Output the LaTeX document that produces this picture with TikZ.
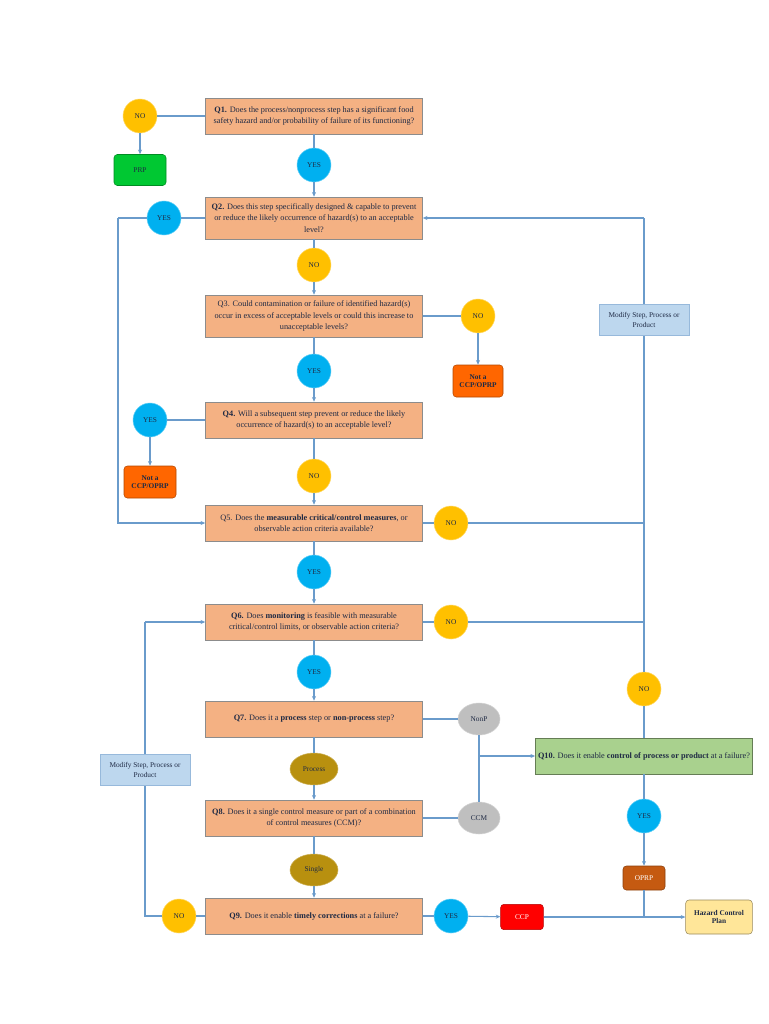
\documentclass[tikz,border=0pt]{standalone}
\usepackage{fontspec}
\setmainfont{Liberation Serif}
\usetikzlibrary{arrows.meta}
\definecolor{lnk}{HTML}{6A9BCB}
\definecolor{qfill}{HTML}{F4B183}
\definecolor{qline}{HTML}{8C8C8C}
\definecolor{nofill}{HTML}{FFC000}
\definecolor{yesfill}{HTML}{00B0F0}
\definecolor{prpfill}{HTML}{00C832}
\definecolor{ncpfill}{HTML}{FF6600}
\definecolor{modfill}{HTML}{BDD7EE}
\definecolor{olive}{HTML}{B8900F}
\definecolor{grayfill}{HTML}{BFBFBF}
\definecolor{q10fill}{HTML}{A9D18E}
\definecolor{oprpfill}{HTML}{C55A11}
\definecolor{hcpfill}{HTML}{FFE699}
\definecolor{txt}{HTML}{1F2A44}
\tikzset{link/.style={draw=lnk, line width=0.8pt},
  arr/.style={link, -{Stealth[length=3.5pt,width=3pt]}},
  qbox/.style={draw=qline, fill=qfill, minimum width=162.75pt, minimum height=27pt, inner sep=2pt,
    align=center, text=txt, font=\fontsize{6.2}{8.4}\selectfont},
  rnd/.style={circle, minimum size=25.5pt, inner sep=0pt, text=txt, font=\fontsize{5.5}{6}\selectfont},
  nocirc/.style={rnd, fill=nofill, draw=nofill!60!white},
  yescirc/.style={rnd, fill=yesfill, draw=yesfill!60!white},
  oval/.style={ellipse, minimum width=31.5pt, minimum height=24pt, inner sep=0pt, text=txt,
    font=\fontsize{5.5}{6}\selectfont},
  endbox/.style={rounded corners=2.5pt, inner sep=1pt, align=center, font=\fontsize{5.5}{6.5}\selectfont},
  modbox/.style={draw=lnk!70!white, fill=modfill, minimum width=67.5pt, minimum height=23.25pt,
    inner sep=1pt, align=center, text=txt, font=\fontsize{5.5}{7}\selectfont}}
\usetikzlibrary{shapes.geometric}
\begin{document}
\begin{tikzpicture}[x=0.75pt, y=-0.75pt]
  \useasboundingbox (0,0) rectangle (768,1024);
  % questions
  \node[qbox] (q1) at (314,116) {\textbf{Q1.} Does the process/nonprocess step has a significant food\\ safety hazard and/or probability of failure of its functioning?};
  \node[qbox, minimum height=31.5pt] (q2) at (314,218) {\textbf{Q2.} Does this step specifically designed \& capable to prevent\\ or reduce the likely occurrence of hazard(s) to an acceptable\\ level?};
  \node[qbox, minimum height=31.5pt] (q3) at (314,316) {Q3. Could contamination or failure of identified hazard(s)\\ occur in excess of acceptable levels or could this increase to\\ unacceptable levels?};
  \node[qbox] (q4) at (314,420) {\textbf{Q4.} Will a subsequent step prevent or reduce the likely\\ occurrence of hazard(s) to an acceptable level?};
  \node[qbox] (q5) at (314,523) {Q5. Does the \textbf{measurable critical/control measures}, or\\ observable action criteria available?};
  \node[qbox] (q6) at (314,622) {\textbf{Q6.} Does \textbf{monitoring} is feasible with measurable\\ critical/control limits, or observable action criteria?};
  \node[qbox] (q7) at (314,719) {\textbf{Q7.} Does it a \textbf{process} step or \textbf{non-process} step?};
  \node[qbox] (q8) at (314,818) {\textbf{Q8.} Does it a single control measure or part of a combination\\ of control measures (CCM)?};
  \node[qbox] (q9) at (314,916) {\textbf{Q9.} Does it enable \textbf{timely corrections} at a failure?};
  \node[qbox, draw=q10fill!60!black, fill=q10fill] (q10) at (644,756) {\textbf{Q10.} Does it enable \textbf{control of process or product} at a failure?};
  % answers
  \node[nocirc] (no1) at (140,116) {NO};
  \node[yescirc] (yes1) at (314,165) {YES};
  \node[yescirc] (yes2) at (164,218) {YES};
  \node[nocirc] (no2) at (314,265) {NO};
  \node[nocirc] (no3) at (478,316) {NO};
  \node[yescirc] (yes3) at (314,371) {YES};
  \node[yescirc] (yes4) at (150,420) {YES};
  \node[nocirc] (no4) at (314,476) {NO};
  \node[nocirc] (no5) at (451,523) {NO};
  \node[yescirc] (yes5) at (314,572) {YES};
  \node[nocirc] (no6) at (451,622) {NO};
  \node[yescirc] (yes6) at (314,672) {YES};
  \node[oval, fill=grayfill, draw=grayfill!70!white] (nonp) at (479,719) {NonP};
  \node[oval, fill=olive, draw=olive!70!white, minimum width=36pt] (proc) at (314,769) {Process};
  \node[oval, fill=grayfill, draw=grayfill!70!white] (ccm) at (479,818) {CCM};
  \node[oval, fill=olive, draw=olive!70!white, minimum width=36pt] (single) at (314,870) {Single};
  \node[nocirc] (no9) at (179,916) {NO};
  \node[yescirc] (yes9) at (451,916) {YES};
  \node[nocirc] (no10) at (644,689) {NO};
  \node[yescirc] (yes10) at (644,816) {YES};
  % outcomes
  \node[endbox, draw=prpfill!70!black, fill=prpfill, minimum width=39pt, minimum height=23.25pt, text=txt] (prp) at (140,170) {PRP};
  \node[endbox, draw=ncpfill!70!black, fill=ncpfill, minimum width=37.5pt, minimum height=24pt, text=txt] (ncp1) at (478,381) {\textbf{Not a}\\ \textbf{CCP/OPRP}};
  \node[endbox, draw=ncpfill!70!black, fill=ncpfill, minimum width=39pt, minimum height=24pt, text=txt] (ncp2) at (150,482) {\textbf{Not a}\\ \textbf{CCP/OPRP}};
  \node[endbox, draw=oprpfill!70!black, fill=oprpfill, minimum width=31.5pt, minimum height=18pt, text=white] (oprp) at (644,878) {OPRP};
  \node[endbox, draw=red!70!black, fill=red, minimum width=32pt, minimum height=19pt, text=white] (ccp) at (522,917) {CCP};
  \node[endbox, draw=hcpfill!60!black, fill=hcpfill, minimum width=50pt, minimum height=25.5pt, text=txt] (hcp) at (719,917) {\textbf{Hazard Control}\\ \textbf{Plan}};
  \node[modbox] (modl) at (145,770) {Modify Step, Process or\\ Product};
  \node[modbox] (modr) at (644,320) {Modify Step, Process or\\ Product};
  % turning points
  \coordinate (l2) at (118,218);
  \coordinate (l9) at (145,916);
  \coordinate (l6) at (145,622);
  \coordinate (r2) at (644,218);
  \coordinate (r5) at (644,523);
  \coordinate (r6) at (644,622);
  \coordinate (jn) at (479,756);
  \coordinate (jo) at (644,917);
  % connectors
  \draw[link] (q1) -- (no1);
  \draw[arr] (no1) -- (prp);
  \draw[link] (q1) -- (yes1);
  \draw[arr] (yes1) -- (q2);
  \draw[link] (q2) -- (yes2);
  \draw[link] (yes2) -- (l2);
  \draw[arr] (l2) |- (q5.west);
  \draw[link] (q2) -- (no2);
  \draw[arr] (no2) -- (q3);
  \draw[link] (q3) -- (no3);
  \draw[arr] (no3) -- (ncp1);
  \draw[link] (q3) -- (yes3);
  \draw[arr] (yes3) -- (q4);
  \draw[link] (q4) -- (yes4);
  \draw[arr] (yes4) -- (ncp2);
  \draw[link] (q4) -- (no4);
  \draw[arr] (no4) -- (q5);
  \draw[link] (q5) -- (no5);
  \draw[link] (no5) -- (r5);
  \draw[link] (q5) -- (yes5);
  \draw[arr] (yes5) -- (q6);
  \draw[link] (q6) -- (no6);
  \draw[link] (no6) -- (r6);
  \draw[link] (q6) -- (yes6);
  \draw[arr] (yes6) -- (q7);
  \draw[link] (q7) -- (nonp);
  \draw[link] (nonp) -- (ccm);
  \draw[arr] (jn) -- (q10);
  \draw[link] (q7) -- (proc);
  \draw[arr] (proc) -- (q8);
  \draw[link] (q8) -- (ccm);
  \draw[link] (q8) -- (single);
  \draw[arr] (single) -- (q9);
  \draw[link] (q9) -- (no9);
  \draw[link] (no9) -- (l9) -- (modl);
  \draw[link] (modl) -- (l6);
  \draw[arr] (l6) -- (q6.west);
  \draw[link] (q9) -- (yes9);
  \draw[arr] (yes9) -- (ccp);
  \draw[arr] (ccp) -- (hcp);
  \draw[link] (q10) -- (no10);
  \draw[link] (no10) -- (modr);
  \draw[link] (modr) -- (r2);
  \draw[arr] (r2) -- (q2.east);
  \draw[link] (q10) -- (yes10);
  \draw[arr] (yes10) -- (oprp);
  \draw[link] (oprp) -- (jo);
\end{tikzpicture}
\end{document}
